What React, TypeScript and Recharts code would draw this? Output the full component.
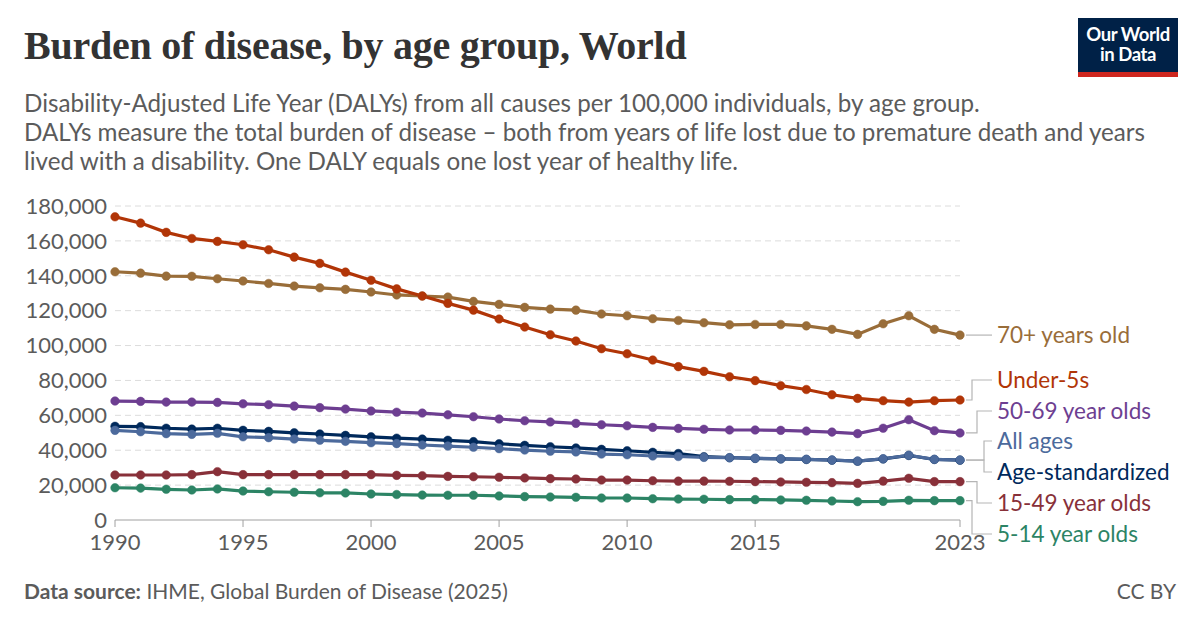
import React from "react";
import { LineChart, Line, XAxis, YAxis, CartesianGrid, LabelList } from "recharts";

// DALYs from all causes per 100,000 individuals, World, 1990–2023
const years = [
  1990, 1991, 1992, 1993, 1994, 1995, 1996, 1997, 1998, 1999, 2000, 2001,
  2002, 2003, 2004, 2005, 2006, 2007, 2008, 2009, 2010, 2011, 2012, 2013,
  2014, 2015, 2016, 2017, 2018, 2019, 2020, 2021, 2022, 2023,
];

const old70 = [
  142300, 141500, 139800, 139700, 138300, 137000, 135600, 134100, 133100, 132200, 130700, 129000,
  128400, 127800, 125300, 123600, 121900, 120900, 120300, 118100, 117100, 115400, 114400, 113100,
  111900, 112100, 112100, 111300, 109300, 106400, 112500, 117100, 109300, 106000,
];

const under5 = [
  173800, 170200, 164900, 161400, 159700, 157800, 154900, 150700, 147100, 142100, 137400, 132500,
  128400, 124200, 120300, 115200, 110600, 106200, 102600, 98200, 95300, 91700, 87900, 85200,
  82100, 79900, 77000, 74800, 71800, 69700, 68400, 67600, 68400, 68800,
];

const age5069 = [
  68200, 68000, 67600, 67600, 67400, 66600, 66100, 65300, 64400, 63600, 62500, 61800,
  61300, 60300, 59200, 57900, 56900, 56200, 55400, 54600, 54000, 53100, 52500, 52000,
  51600, 51600, 51400, 51000, 50400, 49500, 52600, 57500, 51200, 49900,
];

const allAges = [
  51400, 50600, 49500, 49100, 49700, 47700, 47200, 46400, 45700, 45100, 44300, 43800,
  43000, 42400, 41700, 40900, 40100, 39400, 39000, 37800, 37400, 36700, 36400, 35900,
  35700, 35400, 35100, 34800, 34400, 33800, 35100, 37100, 34800, 34400,
];

const ageStandardized = [
  53700, 53500, 52600, 52100, 52600, 51400, 50800, 50000, 49300, 48500, 47700, 46900,
  46400, 45700, 44900, 43700, 42800, 42000, 41300, 40500, 39700, 38800, 38100, 36300,
  35700, 35300, 35000, 34700, 34300, 33700, 35000, 37000, 34700, 34300,
];

const age1549 = [
  25800, 25800, 25800, 26000, 27700, 26000, 26000, 26000, 26000, 26000, 26000, 25600,
  25400, 25000, 24800, 24500, 24100, 23700, 23500, 22900, 22900, 22500, 22300, 22300,
  22200, 22000, 21800, 21600, 21400, 21000, 22300, 23900, 22000, 22000,
];

const age514 = [
  18500, 18300, 17600, 17200, 17800, 16600, 16200, 15900, 15600, 15500, 14900, 14600,
  14300, 14200, 14200, 13800, 13400, 13200, 13000, 12600, 12600, 12200, 12000, 11900,
  11700, 11700, 11500, 11300, 10900, 10500, 10700, 11300, 11100, 11100,
];

const yTicks = [0, 20000, 40000, 60000, 80000, 100000, 120000, 140000, 160000, 180000];
const xTicks = [1990, 1995, 2000, 2005, 2010, 2015, 2023];

const rows = years.map((year, i) => ({
  year,
  old70: old70[i],
  under5: under5[i],
  age5069: age5069[i],
  ageStandardized: ageStandardized[i],
  allAges: allAges[i],
  age1549: age1549[i],
  age514: age514[i],
}));

type SeriesDef = {
  key: string;
  name: string;
  color: string;
  labelY: number | null; // null: label sits level with the last point
  elbowX: number | null;
};

// Drawing order: later series paint on top
const series: SeriesDef[] = [
  { key: "old70", name: "70+ years old", color: "#996D39", labelY: null, elbowX: null },
  { key: "under5", name: "Under-5s", color: "#B13507", labelY: 380, elbowX: 972 },
  { key: "age5069", name: "50-69 year olds", color: "#6D3E91", labelY: 411, elbowX: 977 },
  { key: "ageStandardized", name: "Age-standardized", color: "#00295B", labelY: 472, elbowX: 984 },
  { key: "allAges", name: "All ages", color: "#4C6A9C", labelY: 441, elbowX: 984 },
  { key: "age1549", name: "15-49 year olds", color: "#883039", labelY: 503, elbowX: 977 },
  { key: "age514", name: "5-14 year olds", color: "#2C8465", labelY: 534, elbowX: 972 },
];

const FONT = "Lato, 'Noto Sans', sans-serif";
const LABEL_TEXT_X = 997;
const CONNECTOR_END_X = 992;

const fmt = (v: number) => v.toLocaleString("en-US");

function makeEndLabel(s: SeriesDef) {
  return (props: any) => {
    const { x, y, index } = props;
    if (index !== years.length - 1 || x == null || y == null) return null;
    const px = Number(x);
    const py = Number(y);
    const ty = s.labelY == null ? py : s.labelY;
    const d =
      s.elbowX == null
        ? `M${px + 6},${py} H${CONNECTOR_END_X}`
        : `M${px + 6},${py} H${s.elbowX} V${ty} H${CONNECTOR_END_X}`;
    return (
      <g key={`end-${s.key}`}>
        <path d={d} fill="none" stroke="#b5b5b5" strokeWidth={1.2} />
        <text
          x={LABEL_TEXT_X}
          y={ty}
          dy="0.35em"
          fill={s.color}
          fontFamily={FONT}
          fontSize={22.5}
        >
          {s.name}
        </text>
      </g>
    );
  };
}

export default function App() {
  return (
    <div
      style={{
        position: "fixed",
        left: 0,
        top: 0,
        width: 1200,
        height: 627,
        background: "#fff",
        fontFamily: FONT,
        overflow: "hidden",
      }}
    >
      <div
        style={{
          position: "absolute",
          left: 24,
          top: 22,
          fontFamily: "'Liberation Serif', 'DejaVu Serif', serif",
          fontWeight: 700,
          fontSize: 40,
          lineHeight: "48px",
          color: "#333",
          whiteSpace: "nowrap",
          letterSpacing: -0.25,
        }}
      >
        Burden of disease, by age group, World
      </div>

      <div
        style={{
          position: "absolute",
          left: 24,
          top: 88,
          fontSize: 24.2,
          lineHeight: "29px",
          color: "#5b5b5b",
          whiteSpace: "nowrap",
        }}
      >
        <div>Disability-Adjusted Life Year (DALYs) from all causes per 100,000 individuals, by age group.</div>
        <div>DALYs measure the total burden of disease – both from years of life lost due to premature death and years</div>
        <div>lived with a disability. One DALY equals one lost year of healthy life.</div>
      </div>

      <div
        style={{
          position: "absolute",
          left: 1078,
          top: 18,
          width: 100,
          height: 59,
          background: "#002147",
          borderBottom: "5px solid #CE261E",
          boxSizing: "border-box",
          color: "#fff",
          fontWeight: 700,
          fontSize: 18.5,
          lineHeight: "20px",
          textAlign: "center",
          paddingTop: 6,
          letterSpacing: -0.4,
        }}
      >
        <div>Our World</div>
        <div>in Data</div>
      </div>

      <div style={{ position: "absolute", left: 0, top: 0 }}>
        <LineChart
          width={1200}
          height={627}
          data={rows}
          margin={{ top: 206, right: 240, bottom: 77, left: 25 }}
        >
          <CartesianGrid
            vertical={false}
            stroke="#dcdcdc"
            strokeDasharray="6 4"
            horizontalValues={yTicks.filter((t) => t > 0)}
          />
          <XAxis
            dataKey="year"
            type="number"
            domain={[1990, 2023]}
            ticks={xTicks}
            interval={0}
            height={30}
            axisLine={{ stroke: "#a0a0a0" }}
            tickLine={{ stroke: "#a0a0a0" }}
            tickSize={7}
            tickMargin={7}
            tick={{ fill: "#5b5b5b", fontSize: 22, fontFamily: FONT }}
          />
          <YAxis
            type="number"
            domain={[0, 180000]}
            ticks={yTicks}
            interval={0}
            width={90}
            axisLine={false}
            tickLine={false}
            tickFormatter={fmt}
            tick={{ fill: "#5b5b5b", fontSize: 22, fontFamily: FONT }}
          />
          {series.map((s) => (
            <Line
              key={s.key}
              dataKey={s.key}
              name={s.name}
              type="linear"
              stroke={s.color}
              strokeWidth={3.2}
              dot={{ r: 4.3, fill: s.color, stroke: s.color, strokeWidth: 0.5 }}
              activeDot={false}
              isAnimationActive={false}
            >
              <LabelList dataKey={s.key} content={makeEndLabel(s)} />
            </Line>
          ))}
        </LineChart>
      </div>

      <div
        style={{
          position: "absolute",
          left: 24,
          top: 580,
          fontSize: 21,
          lineHeight: "22px",
          color: "#5b5b5b",
          whiteSpace: "nowrap",
        }}
      >
        <span style={{ fontWeight: 700 }}>Data source:</span> IHME, Global Burden of Disease (2025)
      </div>
      <div
        style={{
          position: "absolute",
          right: 24,
          top: 580,
          fontSize: 21,
          lineHeight: "22px",
          color: "#5b5b5b",
          whiteSpace: "nowrap",
        }}
      >
        CC BY
      </div>
    </div>
  );
}
